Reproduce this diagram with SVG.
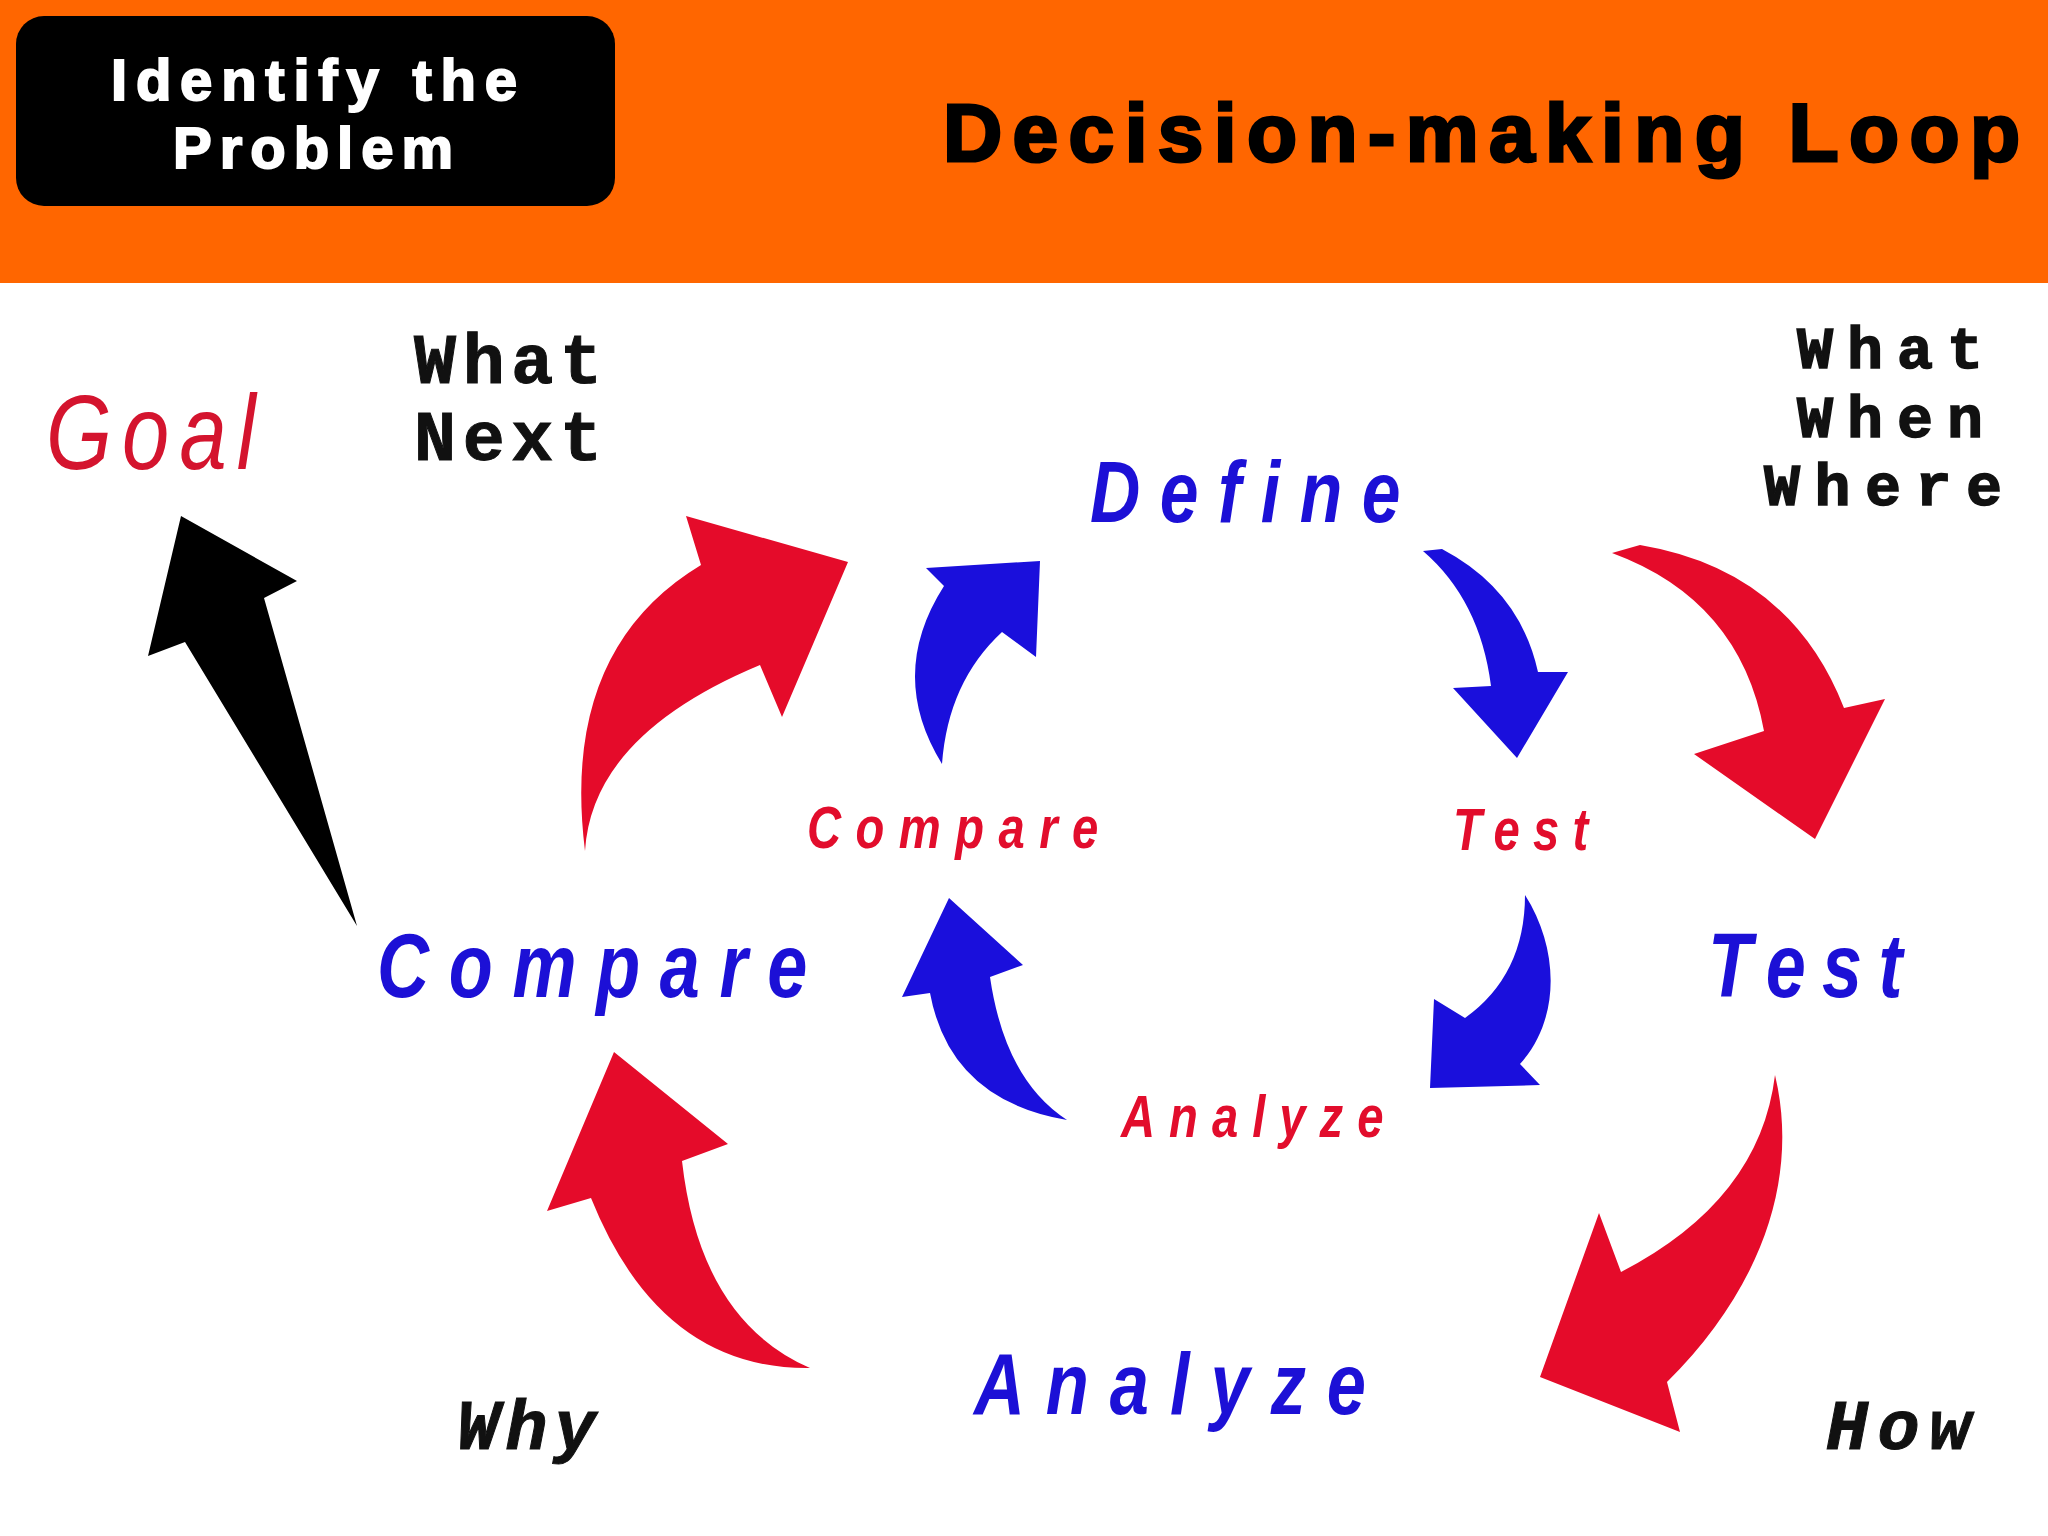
<svg xmlns="http://www.w3.org/2000/svg" width="2048" height="1536" viewBox="0 0 2048 1536">
<style>
.lbl{font-family:"Liberation Sans",Arial,sans-serif;font-weight:bold;font-style:italic}
.blue{fill:#1c10d6}
.red{fill:#e20d2c}
.blk{font-family:"Liberation Mono","Courier New",monospace;font-weight:bold;font-size:70px;fill:#111;stroke:#111;stroke-width:1}
.blk2{font-family:"Liberation Mono","Courier New",monospace;font-weight:bold;font-size:60px;fill:#111;stroke:#111;stroke-width:1.5}
.ra{fill:#e50b2a}
.ba{fill:#1a0fdc}
.hd{font-family:"Liberation Sans",Arial,sans-serif;font-weight:bold}
</style>
<rect x="0" y="0" width="2048" height="1536" fill="#ffffff"/>
<g id="header">
<rect x="0" y="0" width="2048" height="283" fill="#ff6600"/>
</g>
<g id="identify-box">
<rect x="16" y="16" width="599" height="190" rx="28" ry="28" fill="#000"/>
<text class="hd" x="111" y="100" font-size="58" textLength="406" lengthAdjust="spacing" fill="#fff" stroke="#fff" stroke-width="2">Identify the</text>
<text class="hd" x="173" y="168" font-size="58" textLength="280" lengthAdjust="spacing" fill="#fff" stroke="#fff" stroke-width="2">Problem</text>
</g>
<g id="title">
<text class="hd" x="943" y="161" font-size="82" textLength="1077" lengthAdjust="spacing" fill="#000" stroke="#000" stroke-width="3">Decision-making Loop</text>
</g>

<g id="connectors">
<path id="arrow-goal" fill="#000" d="M181,516 L297,581 L264,598 L357,926 L185,642 L148,656 Z"/>
<path id="arrow-compare-define-outer" class="ra" d="M701,565 L686,516 L848,562 L782,717 L760,665 Q592,735 585,851 Q560,650 701,565 Z"/>
<path id="arrow-compare-define-inner" class="ba" d="M944,586 L926,568 L1040,561 L1036,657 L1002,632 Q948,682 942,764 Q887,675 944,586 Z"/>
<path id="arrow-define-test-inner" class="ba" d="M1423,551 L1442,549 Q1520,590 1538,672 L1568,672 L1517,758 L1453,688 L1491,686 Q1480,600 1423,551 Z"/>
<path id="arrow-define-test-outer" class="ra" d="M1612,553 L1640,545 Q1790,570 1844,708 L1885,699 L1815,839 L1694,754 L1764,731 Q1740,600 1612,553 Z"/>
<path id="arrow-test-analyze-inner" class="ba" d="M1525,895 C1560,950 1560,1020 1520,1064 L1540,1085 L1430,1088 L1434,999 L1465,1018 Q1525,975 1525,895 Z"/>
<path id="arrow-analyze-compare-inner" class="ba" d="M1067,1120 Q1005,1080 990,977 L1023,965 L949,898 L902,997 L930,993 Q950,1100 1067,1120 Z"/>
<path id="arrow-test-analyze-outer" class="ra" d="M1775,1075 C1800,1180 1760,1290 1667,1382 L1680,1432 L1540,1377 L1599,1213 L1621,1272 Q1760,1200 1775,1075 Z"/>
<path id="arrow-analyze-compare-outer" class="ra" d="M810,1368 Q700,1320 682,1161 L728,1144 L614,1052 L547,1211 L591,1198 Q660,1370 810,1368 Z"/>
</g>

<g id="goal" transform="translate(46,469) scale(0.8,1)">
<text x="0" y="0" font-family="Liberation Sans, Arial, sans-serif" font-style="italic" font-size="106" fill="#d4142e" textLength="262" lengthAdjust="spacing">Goal</text>
</g>
<g id="what-next">
<text class="blk" x="414" y="383" textLength="188" lengthAdjust="spacing">What</text>
<text class="blk" x="414" y="460" textLength="188" lengthAdjust="spacing">Next</text>
</g>
<g id="what-when-where">
<text class="blk2" x="1797" y="368" textLength="186" lengthAdjust="spacing">What</text>
<text class="blk2" x="1797" y="437" textLength="186" lengthAdjust="spacing">When</text>
<text class="blk2" x="1764" y="505" textLength="238" lengthAdjust="spacing">Where</text>
</g>
<g id="why">
<text class="blk" x="457" y="1449" font-style="italic" textLength="139" lengthAdjust="spacing">Why</text>
</g>
<g id="how">
<text class="blk" x="1826" y="1449" font-style="italic" textLength="145" lengthAdjust="spacing">How</text>
</g>

<g id="define" transform="translate(1090,522) scale(0.8,1)">
<text class="lbl blue" x="0" y="0" font-size="87" textLength="388" lengthAdjust="spacing">Define</text>
</g>
<g id="compare-inner" transform="translate(807,848) scale(0.8,1)">
<text class="lbl red" x="0" y="0" font-size="59" textLength="364" lengthAdjust="spacing">Compare</text>
</g>
<g id="test-inner" transform="translate(1453,850) scale(0.8,1)">
<text class="lbl red" x="0" y="0" font-size="59" textLength="169" lengthAdjust="spacing">Test</text>
</g>
<g id="compare-outer" transform="translate(377,997) scale(0.8,1)">
<text class="lbl blue" x="0" y="0" font-size="90" textLength="538" lengthAdjust="spacing">Compare</text>
</g>
<g id="test-outer" transform="translate(1708,997) scale(0.8,1)">
<text class="lbl blue" x="0" y="0" font-size="90" textLength="243" lengthAdjust="spacing">Test</text>
</g>
<g id="analyze-inner" transform="translate(1121,1137) scale(0.8,1)">
<text class="lbl red" x="0" y="0" font-size="59" textLength="328" lengthAdjust="spacing">Analyze</text>
</g>
<g id="analyze-outer" transform="translate(974,1414) scale(0.8,1)">
<text class="lbl blue" x="0" y="0" font-size="88" textLength="490" lengthAdjust="spacing">Analyze</text>
</g>
</svg>
